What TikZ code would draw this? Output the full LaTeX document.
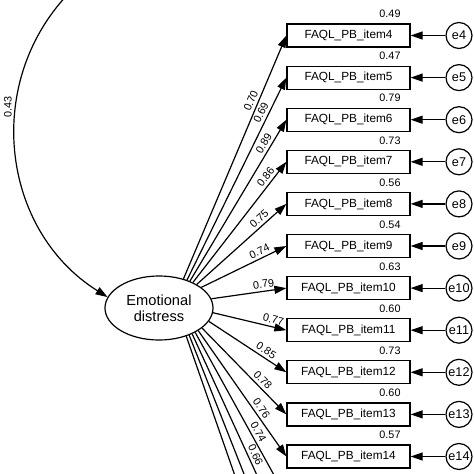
\documentclass[tikz,border=0pt]{standalone}
\usepackage{fontspec}
\setmainfont{Liberation Sans}
\usetikzlibrary{arrows.meta,shapes.geometric}

\begin{document}
\begin{tikzpicture}[
		% one unit is one pixel of the 474 x 474 frame
		x=0.025cm, y=0.025cm,
		line width=0.85pt,
		font=\fontsize{8.4}{10}\selectfont,
		obs/.style={draw, rectangle, minimum width=3.075cm, minimum height=0.575cm, inner sep=0pt},
		err/.style={draw, circle, minimum size=0.65cm, inner sep=0pt, font=\fontsize{9}{10}\selectfont},
		lat/.style={draw, ellipse, minimum width=2.7cm, minimum height=1.6cm, inner sep=0pt, align=center, font=\fontsize{10.4}{11.2}\selectfont},
		load/.style={-{Triangle[length=0.3cm, width=0.2cm]}},
		coef/.style={font=\fontsize{7.7}{9}\selectfont, inner sep=2pt}
		]
		
		\useasboundingbox (0,0) rectangle (474,-474);
		\clip (0,0) rectangle (474,-474);
		
		% ==========================================
		% 1. The latent factor
		% ==========================================
		\node[lat] (emo) at (159,-308) {Emotional\\distress};
		
		% covariance with the factor above (cut by the frame)
		\coordinate (cov) at (72,10);
		\draw[load] (cov) to[out=225, in=148, looseness=1.05]
		node[coef, pos=.37, rotate=90, anchor=south, inner sep=2.5pt] {0.43} (emo.168);
		
		% ==========================================
		% 2. Indicators, error terms and variances
		% ==========================================
		\foreach \i/\v in {4/0.49, 5/0.47, 6/0.79, 7/0.73, 8/0.56, 9/0.54,
			10/0.63, 11/0.60, 12/0.73, 13/0.60, 14/0.57} {
			\node[obs] (it\i) at (348.5, {-35.5-42.1*(\i-4)}) {FAQL\_PB\_item\i};
			\node[err] (e\i) at (459, {-35.5-42.1*(\i-4)}) {e\i};
			\node[coef] (v\i) at (390, {-14-42.1*(\i-4)}) {\v};
			\draw[load] (e\i) -- (it\i);
		}
		
		% items below the frame
		\foreach \i in {15,...,18} {
			\coordinate (it\i) at (287, {-35.5-42.1*(\i-4)});
		}
		
		% ==========================================
		% 3. Loadings
		% ==========================================
		\foreach \i/\a/\l/\p in {4/50/0.70/.72, 5/45/0.69/.81, 6/41/0.89/.83,
			7/37/0.86/.84, 8/32/0.75/.75, 9/26/0.74/.72, 10/10/0.79/.71,
			11/-5/0.77/.80, 12/-15/0.85/.69, 13/-25/0.78/.66, 14/-30/0.76/.65} {
			\draw[load] (emo.\a) -- node[coef, pos=\p, sloped, above] {\l} (it\i.west);
		}
		\draw[load] (emo.-34) -- node[coef, pos=.62, sloped, above] {0.74} (it15);
		\draw[load] (emo.-38) -- node[coef, pos=.60, sloped, above] {0.66} (it16);
		\draw[load] (emo.-42) -- (it17);
		\draw[load] (emo.-46) -- (it18);
		
	\end{tikzpicture}
\end{document}
